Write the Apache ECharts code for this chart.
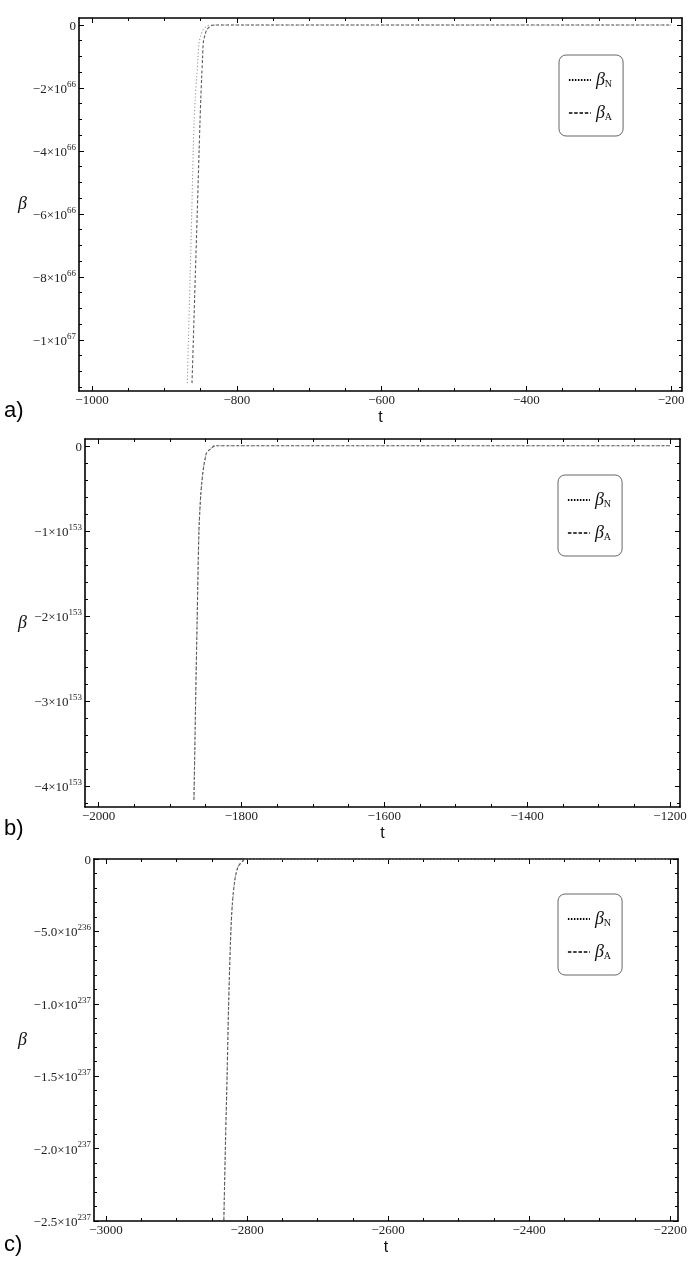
<!DOCTYPE html>
<html>
<head>
<meta charset="utf-8">
<script src="https://cdn.jsdelivr.net/npm/echarts@6/dist/echarts.min.js"></script>
<style>
  html, body { margin: 0; padding: 0; background: #fff; }
  #charts { width: 697px; height: 1268px; }
</style>
</head>
<body>
<div id="charts"></div>
<script>
// panel a) beta in units of 1e66
var tA_N = [-868.4, -866.9, -864.5, -862.3, -860.2, -859.1, -857.3, -855.4, -853.6, -852.2, -849.5, -846.7, -843.5, -841.2, -837.5, -834.3, -200];
var bA_N = [-11.37, -10.03, -8.0, -6.0, -4.0, -3.11, -2.3, -1.65, -1.05, -0.57, -0.32, -0.16, -0.08, -0.03, -0.01, 0, 0];
var tA_A = [-861.9, -860.1, -857.4, -854.7, -852.1, -850.9, -849.7, -848.5, -847.3, -846.3, -844.0, -841.6, -837.0, -831.5, -200];
var bA_A = [-11.37, -10.03, -8.0, -6.0, -4.0, -3.11, -2.3, -1.65, -1.05, -0.57, -0.32, -0.16, -0.05, 0, 0];

// panel b) beta in units of 1e153
var tB_N = [-1866.5, -1865.3, -1864.1, -1861.9, -1859.5, -1857.1, -1855.3, -1853.5, -1851.0, -1848.7, -1841.7, -1837.0, -1200];
var bB_N = [-4.165, -3.6, -2.99, -2.01, -1.008, -0.596, -0.42, -0.282, -0.16, -0.082, -0.024, 0, 0];
var tB_A = tB_N.slice();
var bB_A = bB_N.slice();

// panel c) beta in units of 1e237
var tC_N = [-2832.9, -2830.5, -2828.2, -2826.2, -2823.4, -2821.1, -2817.3, -2812.6, -2805.5, -2801.7, -2200];
var bC_N = [-2.493, -1.94, -1.478, -1.02, -0.559, -0.329, -0.145, -0.053, -0.012, 0, 0];
var tC_A = tC_N.slice();
var bC_A = bC_N.slice();

// axis ranges
var xRangeA = [-1018, -185], yRangeA = [-11.62, 0.22];
var xRangeB = [-2019, -1186], yRangeB = [-4.25, 0.08];
var xRangeC = [-3017, -2189], yRangeC = [-2.5, 0];

// tick values and labels
var xTicksA = [-1000, -800, -600, -400, -200];
var xTicksB = [-2000, -1800, -1600, -1400, -1200];
var xTicksC = [-3000, -2800, -2600, -2400, -2200];
var yTicksA = [0, -2, -4, -6, -8, -10];
var yMantA = ['0', '\u22122', '\u22124', '\u22126', '\u22128', '\u22121'];
var yExpA = ['', '66', '66', '66', '66', '67'];
var yTicksB = [0, -1, -2, -3, -4];
var yMantB = ['0', '\u22121', '\u22122', '\u22123', '\u22124'];
var yExpB = ['', '153', '153', '153', '153'];
var yTicksC = [0, -0.5, -1, -1.5, -2, -2.5];
var yMantC = ['0', '\u22125.0', '\u22121.0', '\u22121.5', '\u22122.0', '\u22122.5'];
var yExpC = ['', '236', '237', '237', '237', '237'];

var serif = '"Liberation Serif", "DejaVu Serif", serif';
var sans = '"Liberation Sans", Arial, sans-serif';

var chartDiv = document.getElementById('charts');
var charts = echarts.init(chartDiv);

function steps(from, to, step) {
    var out = [];
    var n = Math.round((from - to) / step);
    for (var i = 0; i <= n; i++) {
        out.push(Math.round((from - i * step) * 1000) / 1000);
    }
    return out;
}

function zip(xs, ys) {
    var out = [];
    for (var i = 0; i < xs.length; i++) out.push([xs[i], ys[i]]);
    return out;
}

var labelRich = {
    m: {fontFamily: serif, fontSize: 13, color: '#222', lineHeight: 16, verticalAlign: 'bottom'},
    e: {fontFamily: serif, fontSize: 9, color: '#222', lineHeight: 9, verticalAlign: 'top'}
};

function yFormatter(ticks, mant, exp) {
    return function (v) {
        for (var i = 0; i < ticks.length; i++) {
            if (Math.abs(ticks[i] - v) < 1e-6) {
                return exp[i] ? '{m|' + mant[i] + '\u00d710}{e|' + exp[i] + '}' : '{m|' + mant[i] + '}';
            }
        }
        return '';
    };
}

// one frame side = a main axis (line, major ticks) + a second axis for minor ticks
function side(base, pos, ticks, len, line) {
    return echarts.util.merge({
        position: pos,
        axisLine: {show: line, onZero: false, lineStyle: {color: '#000', width: 1.6}},
        axisTick: {show: true, inside: true, length: len, customValues: ticks, lineStyle: {color: '#000', width: 1}},
        axisLabel: {show: false}
    }, base, true);
}

function xAxes(gi, range, majors, minors) {
    var base = {type: 'value', gridIndex: gi, min: range[0], max: range[1], splitLine: {show: false}};
    var main = side(base, 'bottom', majors, 5, true);
    main.axisLabel = {show: true, customValues: majors, margin: 3, fontFamily: serif, fontSize: 13, color: '#222',
        formatter: function (v) { return String(v).replace('-', '\u2212'); }};
    main.name = 't';
    main.nameLocation = 'middle';
    main.nameGap = 19;
    main.nameTextStyle = {fontFamily: sans, fontSize: 16, color: '#111'};
    return [main, side(base, 'bottom', minors, 3, false),
        side(base, 'top', majors, 5, true), side(base, 'top', minors, 3, false)];
}

function yAxes(gi, range, majors, minors, fmt, gap) {
    var base = {type: 'value', gridIndex: gi, min: range[0], max: range[1], splitLine: {show: false}};
    var main = side(base, 'left', majors, 5, true);
    main.axisLabel = {show: true, customValues: majors, margin: 3, formatter: fmt, rich: labelRich};
    main.name = '\u03b2';
    main.nameLocation = 'middle';
    main.nameRotate = 0;
    main.nameGap = gap;
    main.nameTextStyle = {fontFamily: serif, fontStyle: 'italic', fontSize: 18, color: '#111'};
    return [main, side(base, 'left', minors, 3, false),
        side(base, 'right', majors, 5, true), side(base, 'right', minors, 3, false)];
}

function legendAt(left, top) {
    var noMark = {color: 'rgba(0,0,0,0)', borderWidth: 0, opacity: 0};
    return {
        orient: 'vertical', left: left, top: top,
        padding: [16, 11, 14, 9], itemGap: 15, itemWidth: 22, itemHeight: 14,
        borderColor: '#666', borderWidth: 1, borderRadius: 7, backgroundColor: '#fff',
        selectedMode: false,
        data: [
            {name: '\u03b2N', itemStyle: noMark, lineStyle: {color: '#000', width: 1.8, type: [1.5, 1.5]}},
            {name: '\u03b2A', itemStyle: noMark, lineStyle: {color: '#000', width: 1.6, type: [3.5, 1.8]}}
        ],
        formatter: function (name) { return '{g|\u03b2}{s|' + name.slice(1) + '}'; },
        textStyle: {
            rich: {
                g: {fontFamily: serif, fontStyle: 'italic', fontSize: 18, color: '#111', lineHeight: 18, verticalAlign: 'top'},
                s: {fontFamily: serif, fontSize: 10, color: '#111', lineHeight: 10, padding: [8, 0, 0, 0], verticalAlign: 'bottom'}
            }
        }
    };
}

function lineSeries(name, xi, yi, xs, ys) {
    var dotted = name === '\u03b2N';
    return {
        name: name, type: 'line', xAxisIndex: xi, yAxisIndex: yi,
        data: zip(xs, ys), symbol: 'none', smooth: 0.3, animation: false,
        lineStyle: dotted ? {color: '#999', width: 1.1, type: [1.2, 2.2]} : {color: '#5a5a5a', width: 1.1, type: [3, 2]}
    };
}

var option = {
    backgroundColor: '#fff',
    animation: false,
    grid: [
        {left: 79, right: 15, top: 18, height: 373},
        {left: 85, right: 17, top: 439, height: 368},
        {left: 94, right: 19, top: 859, height: 362}
    ],
    xAxis: [].concat(
        xAxes(0, xRangeA, xTicksA, steps(-200, -1000, 50)),
        xAxes(1, xRangeB, xTicksB, steps(-1200, -2000, 50)),
        xAxes(2, xRangeC, xTicksC, steps(-2200, -3000, 50))
    ),
    yAxis: [].concat(
        yAxes(0, yRangeA, yTicksA, steps(0, -11.5, 0.5), yFormatter(yTicksA, yMantA, yExpA), 52),
        yAxes(1, yRangeB, yTicksB, steps(0, -4.2, 0.2), yFormatter(yTicksB, yMantB, yExpB), 58),
        yAxes(2, yRangeC, yTicksC, steps(0, -2.5, 0.1), yFormatter(yTicksC, yMantC, yExpC), 67)
    ),
    legend: [legendAt(559, 55), legendAt(558, 475), legendAt(558, 894)],
    graphic: [
        {type: 'text', left: 4, top: 400, style: {text: 'a)', fontFamily: sans, fontSize: 22, fill: '#000'}},
        {type: 'text', left: 4, top: 818, style: {text: 'b)', fontFamily: sans, fontSize: 22, fill: '#000'}},
        {type: 'text', left: 4, top: 1234, style: {text: 'c)', fontFamily: sans, fontSize: 22, fill: '#000'}}
    ],
    series: [
        lineSeries('\u03b2N', 0, 0, tA_N, bA_N),
        lineSeries('\u03b2A', 0, 0, tA_A, bA_A),
        lineSeries('\u03b2N', 4, 4, tB_N, bB_N),
        lineSeries('\u03b2A', 4, 4, tB_A, bB_A),
        lineSeries('\u03b2N', 8, 8, tC_N, bC_N),
        lineSeries('\u03b2A', 8, 8, tC_A, bC_A)
    ]
};
charts.setOption(option);
</script>
</body>
</html>
